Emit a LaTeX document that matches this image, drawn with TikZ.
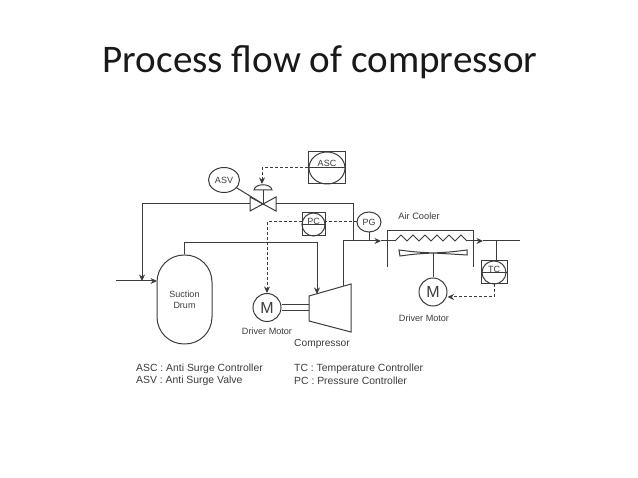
\documentclass[tikz,border=0pt]{standalone}
\usepackage{fontspec}
\setmainfont{Liberation Sans}
\newfontfamily\titlefont{Carlito}
\usepackage{xcolor}
\usetikzlibrary{shapes.geometric, arrows.meta, positioning}
\definecolor{inkline}{HTML}{3C3C3C}
\begin{document}
\begin{tikzpicture}[
        x=1pt, y=-1pt,
        pipe/.style={draw=inkline, line width=1pt},
        flow/.style={pipe, -{Stealth[length=6.5pt,width=6pt]}},
        signal/.style={flow, dash pattern=on 3pt off 2pt},
        signalline/.style={pipe, dash pattern=on 3pt off 2pt},
        ctrlbox/.style={rectangle, draw=inkline, line width=1pt, inner sep=0pt},
        ring/.style={ellipse, draw=inkline, line width=1pt, inner sep=0pt},
        motor/.style={circle, draw=inkline, line width=1pt, inner sep=0pt, minimum size=28pt, font=\fontsize{16}{16}\selectfont, text=inkline},
        lbl/.style={inner sep=0pt, font=\fontsize{9}{10}\selectfont, text=inkline},
        legend/.style={inner sep=0pt, anchor=west, font=\fontsize{10.4}{12}\selectfont, text=inkline}
    ]
    \useasboundingbox (0,0) rectangle (638,478);
    \fill[white] (0,0) rectangle (638,478);

    % Title
    \node[inner sep=0pt, font=\titlefont\fontsize{39.1}{42}\selectfont, text=black!90] (title) at (320,62) {Process flow of compressor};

    % Controllers
    \node[ctrlbox, minimum width=37pt, minimum height=32pt] (asc) at (327,168) {};
    \node[ring, minimum width=36pt, minimum height=32pt] (ascring) at (asc) {};
    \draw[pipe] (ascring.west) -- (ascring.east);
    \node[lbl] (asctext) at (327,163.5) {ASC};
    \node[ctrlbox, minimum width=23pt, minimum height=23pt] (pc) at (313.5,224.5) {};
    \node[ring, minimum width=23pt, minimum height=23pt] (pcring) at (pc) {};
    \draw[pipe] (pcring.west) -- (pcring.east);
    \node[lbl] (pctext) at (313.5,221) {PC};
    \node[ctrlbox, minimum width=26pt, minimum height=23pt] (tc) at (494,272.5) {};
    \node[ring, minimum width=24pt, minimum height=23pt] (tcring) at (tc) {};
    \draw[pipe] (tcring.west) -- (tcring.east);
    \node[lbl] (tctext) at (494,269.5) {TC};
    \node[ring, minimum width=31pt, minimum height=25pt, lbl] (asv) at (224,180) {ASV};
    \node[ring, minimum width=24pt, minimum height=20pt, lbl] (pg) at (369,222) {PG};

    % Anti surge valve
    \coordinate (valve) at (263,204);
    \coordinate (vleft) at (250,204);
    \coordinate (vright) at (276,204);
    \coordinate (stem) at (263,190);
    \draw[pipe] (valve) -- (250,197) -- (vleft) -- (250,211) -- cycle;
    \draw[pipe] (valve) -- (276,197) -- (vright) -- (276,211) -- cycle;
    \draw[pipe] (254,190) .. controls (255,183) and (271,183) .. (272,190) -- cycle;
    \draw[pipe] (stem) -- (valve);
    \draw[pipe] (asv) -- (valve);

    % Suction drum
    \node[rectangle, draw=inkline, line width=1pt, rounded corners=27pt, minimum width=55pt, minimum height=89pt, inner sep=0pt, lbl, align=center] (drum) at (184.5,299.5) {Suction\\[1pt]Drum};

    % Compressor and motors
    \coordinate (cpa) at (309,296);
    \coordinate (cpb) at (351,284);
    \coordinate (cpc) at (351,332);
    \coordinate (cpd) at (309,321);
    \draw[pipe] (cpa) -- (cpb) -- (cpc) -- (cpd) -- cycle;
    \node[motor] (motor1) at (267,307.5) {M};
    \node[motor] (motor2) at (433,292) {M};
    \draw[pipe] (motor1.east |- 0,305) -- (cpa |- 0,305);
    \draw[pipe] (motor1.east |- 0,311) -- (cpa |- 0,311);

    % Air cooler
    \draw[pipe] (387,267) -- (387,231) -- (473,231) -- (473,267);
    \coordinate (coilin) at (395,241);
    \coordinate (coilout) at (467,241);
    \draw[pipe] (coilin) -- (401,235) -- (407,241) -- (413,235) -- (419,241) -- (425,235) -- (431,241) -- (437,235) -- (443,241) -- (449,235) -- (455,241) -- (461,235) -- (coilout);
    \coordinate (fanhub) at (433,253);
    \draw[pipe] (399,250) .. controls (415,252) .. (fanhub) .. controls (451,252) .. (467,250) -- (467,255) .. controls (451,254) .. (fanhub) .. controls (415,254) .. (400,256) -- cycle;
    \draw[pipe] (fanhub) -- (motor2);

    % Process lines
    \coordinate (disc) at (343,286);
    \coordinate (disctop) at (343,241);
    \coordinate (tee) at (353,241);
    \coordinate (mid1) at (381,241);
    \coordinate (mid2) at (483,241);
    \coordinate (tctee) at (496,241);
    \coordinate (outlet) at (520,241);
    \draw[pipe] (disc) -- (disctop) -- (tee);
    \draw[flow] (tee) -- (mid1);
    \draw[pipe] (mid1) -- (coilin);
    \draw[flow] (coilout) -- (mid2);
    \draw[pipe] (mid2) -- (outlet);
    \draw[pipe] (tctee) -- (tc.north -| tctee);
    \draw[pipe] (pg) -- (pg |- tee);
    \draw[pipe] (vright) -- (353,204) -- (tee);
    \coordinate (feed) at (116,281);
    \coordinate (drumfeed) at (157,281);
    \coordinate (recycle) at (142,204);
    \draw[flow] (feed) -- (drumfeed);
    \draw[flow] (vleft) -- (recycle) -- (142,281);
    \coordinate (suction) at (184.5,243);
    \coordinate (suctionend) at (317,243);
    \draw[flow] (drum.north) -- (suction) -- (suctionend) -- (317,294);

    % Signal lines
    \draw[signal] (asc.west) -- (262,168) -- (262,184);
    \draw[signalline] (pg.west) -- (pc.east |- pg);
    \draw[signal] (pc.west |- 0,222) -- (267,222) -- (motor1.north);
    \draw[signal] (tc.south) -- (494,297) -- (motor2.east |- 0,297);

    % Labels
    \node[lbl, font=\fontsize{9.3}{10}\selectfont] (airlabel) at (419,216) {Air Cooler};
    \node[lbl, font=\fontsize{9.1}{10}\selectfont] (motorlabel2) at (424,318) {Driver Motor};
    \node[lbl, font=\fontsize{9.1}{10}\selectfont] (motorlabel1) at (267,331) {Driver Motor};
    \node[lbl, font=\fontsize{10.2}{11}\selectfont] (complabel) at (322,344) {Compressor};

    % Legend
    \node[legend] (leg1) at (136,369) {ASC : Anti Surge Controller};
    \node[legend] (leg2) at (136,381) {ASV : Anti Surge Valve};
    \node[legend] (leg3) at (294,369) {TC : Temperature Controller};
    \node[legend] (leg4) at (294,381) {PC : Pressure Controller};
\end{tikzpicture}
\end{document}
